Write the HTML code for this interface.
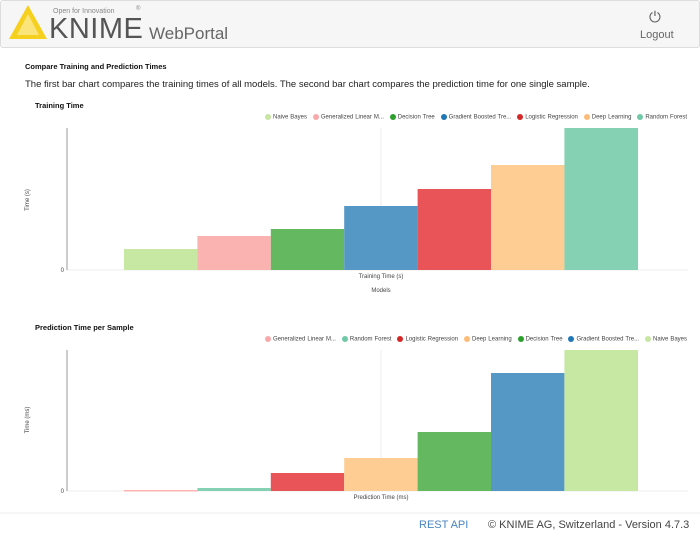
<!DOCTYPE html><html><head><style>
body{margin:0;width:700px;height:539px;background:#fff;font-family:"Liberation Sans",sans-serif;position:relative;overflow:hidden}
.a{position:absolute;white-space:nowrap}
.hdr{position:absolute;left:0;top:0;width:698px;height:46px;background:#f6f6f6;border:1px solid #ddd;border-radius:3px}
.lg{font-size:6px;color:#444}
.dot{display:inline-block;width:6px;height:6px;border-radius:50%;vertical-align:middle;margin-right:2px}
</style></head><body>
<div class="hdr"></div>
<svg class="a" style="left:8px;top:4px" width="40" height="36" viewBox="0 0 40 36"><polygon points="20,1 39,35 1,35" fill="#f6d01e"/><polygon points="20,10 31,31 9,31" fill="#fbe57a"/></svg>
<div class="a" style="left:53px;top:8px;font-size:7px;color:#888">Open for Innovation</div>
<div class="a" style="left:136px;top:6px;font-size:6px;color:#888">®</div>
<div class="a" style="left:49px;top:13px;font-size:29px;color:#555;letter-spacing:0.5px">KNIME</div>
<div class="a" style="left:149px;top:24px;font-size:17px;color:#666">WebPortal</div>
<div class="a" style="left:649px;top:9px;font-size:15px;color:#666">⏻</div>
<div class="a" style="left:640px;top:29px;font-size:11px;color:#666">Logout</div>
<div class="a" style="left:25px;top:62px;font-size:7.5px;font-weight:bold;color:#111">Compare Training and Prediction Times</div>
<div class="a" style="left:25px;top:79px;font-size:9.5px;color:#222">The first bar chart compares the training times of all models. The second bar chart compares the prediction time for one single sample.</div>
<div class="a" style="left:35px;top:101px;font-size:7.5px;font-weight:bold;color:#111">Training Time</div>
<div class="a lg" style="left:265px;top:114px;word-spacing:0.3px"><span class="dot" style="background:#c6e6a2"></span>Naive Bayes&nbsp;&nbsp;&nbsp;<span class="dot" style="background:#f9a9a9"></span>Generalized Linear M...&nbsp;&nbsp;&nbsp;<span class="dot" style="background:#2ca02c"></span>Decision Tree&nbsp;&nbsp;&nbsp;<span class="dot" style="background:#1f77b4"></span>Gradient Boosted Tre...&nbsp;&nbsp;&nbsp;<span class="dot" style="background:#d62728"></span>Logistic Regression&nbsp;&nbsp;&nbsp;<span class="dot" style="background:#ffbb78"></span>Deep Learning&nbsp;&nbsp;&nbsp;<span class="dot" style="background:#6fc9a6"></span>Random Forest</div>
<svg class="a" style="left:0;top:0" width="700" height="539">
<g>
<line x1="381" y1="128" x2="381" y2="270" stroke="#eee"/>
<line x1="67" y1="270" x2="688" y2="270" stroke="#eee"/>
<line x1="67" y1="128" x2="67" y2="270" stroke="#999"/>
<rect x="124" y="249" width="73.4" height="21" fill="#c6e8a3"/>
<rect x="197.4" y="236" width="73.4" height="34" fill="#fbb3b2"/>
<rect x="270.8" y="229" width="73.4" height="41" fill="#64b85f"/>
<rect x="344.2" y="206" width="73.4" height="64" fill="#5598c6"/>
<rect x="417.6" y="189" width="73.4" height="81" fill="#e85457"/>
<rect x="491" y="165" width="73.4" height="105" fill="#fdcd93"/>
<rect x="564.4" y="128" width="73.6" height="142" fill="#84d1b3"/>
</g>
<g>
<line x1="381" y1="350" x2="381" y2="491" stroke="#eee"/>
<line x1="67" y1="491" x2="688" y2="491" stroke="#eee"/>
<line x1="67" y1="350" x2="67" y2="491" stroke="#999"/>
<rect x="124" y="490" width="73.4" height="1.5" fill="#fbb3b2"/>
<rect x="197.4" y="488" width="73.4" height="3" fill="#84d1b3"/>
<rect x="270.8" y="473" width="73.4" height="18" fill="#e85457"/>
<rect x="344.2" y="458" width="73.4" height="33" fill="#fdcd93"/>
<rect x="417.6" y="432" width="73.4" height="59" fill="#64b85f"/>
<rect x="491" y="373" width="73.4" height="118" fill="#5598c6"/>
<rect x="564.4" y="350" width="73.6" height="141" fill="#c6e8a3"/>
</g>
<line x1="0" y1="513" x2="700" y2="513" stroke="#eee"/>
<text x="29" y="200" font-size="6" fill="#444" transform="rotate(-90 29 200)" text-anchor="middle" font-family="Liberation Sans">Time (s)</text>
<text x="29" y="420" font-size="6" fill="#444" transform="rotate(-90 29 420)" text-anchor="middle" font-family="Liberation Sans">Time (ms)</text>
<text x="64" y="272" font-size="6" fill="#444" text-anchor="end" font-family="Liberation Sans">0</text>
<text x="64" y="493" font-size="6" fill="#444" text-anchor="end" font-family="Liberation Sans">0</text>
<text x="381" y="278" font-size="6" fill="#444" text-anchor="middle" font-family="Liberation Sans">Training Time (s)</text>
<text x="381" y="292" font-size="6" fill="#444" text-anchor="middle" font-family="Liberation Sans">Models</text>
<text x="381" y="499" font-size="6" fill="#444" text-anchor="middle" font-family="Liberation Sans">Prediction Time (ms)</text>
</svg>
<div class="a" style="left:35px;top:323px;font-size:7.5px;font-weight:bold;color:#111">Prediction Time per Sample</div>
<div class="a lg" style="left:265px;top:336px;word-spacing:0.3px"><span class="dot" style="background:#f9a9a9"></span>Generalized Linear M...&nbsp;&nbsp;&nbsp;<span class="dot" style="background:#6fc9a6"></span>Random Forest&nbsp;&nbsp;&nbsp;<span class="dot" style="background:#d62728"></span>Logistic Regression&nbsp;&nbsp;&nbsp;<span class="dot" style="background:#ffbb78"></span>Deep Learning&nbsp;&nbsp;&nbsp;<span class="dot" style="background:#2ca02c"></span>Decision Tree&nbsp;&nbsp;&nbsp;<span class="dot" style="background:#1f77b4"></span>Gradient Boosted Tre...&nbsp;&nbsp;&nbsp;<span class="dot" style="background:#c6e6a2"></span>Naive Bayes</div>
<div class="a" style="left:419px;top:519px;font-size:11px;color:#4a86c0">REST API</div>
<div class="a" style="left:488px;top:519px;font-size:11px;color:#444">© KNIME AG, Switzerland - Version 4.7.3</div>
</body></html>
